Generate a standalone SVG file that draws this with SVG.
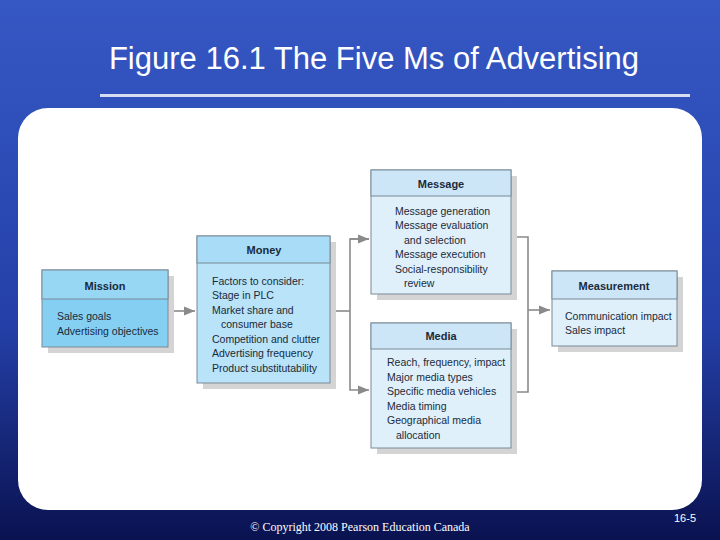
<svg xmlns="http://www.w3.org/2000/svg" width="720" height="540" viewBox="0 0 720 540">
<defs>
<linearGradient id="bg" x1="0" y1="0" x2="0" y2="1">
<stop offset="0" stop-color="#3658c4"/><stop offset="0.6" stop-color="#2440a8"/><stop offset="1" stop-color="#0a1250"/>
</linearGradient>
<marker id="ar" viewBox="0 0 10 10" refX="10" refY="5" markerWidth="7" markerHeight="7" orient="auto"><path d="M0,1 L10,5 L0,9 z" fill="#8a8a8a"/></marker>
</defs>
<style>
.sh{fill:#d4d4d4}
.bx{stroke:#7a8a96;stroke-width:1}
.dk{fill:#85cff2}.dkh{fill:#98d7f4}
.md{fill:#b9e3f8}.mdh{fill:#a9ddf7}
.lt{fill:#dff0fb}.lth{fill:#cce6f7}
.h{font-family:"Liberation Sans",Arial,sans-serif;font-weight:bold;font-size:11px;fill:#1a2a3a;text-anchor:middle}
.t{font-family:"Liberation Sans",Arial,sans-serif;font-size:10.5px;fill:#1a2a3a}
.c{stroke:#8a8a8a;stroke-width:1.6;fill:none}
</style>
<rect width="720" height="540" fill="url(#bg)"/>
<text x="374" y="69" font-family="Liberation Sans,Arial,sans-serif" font-size="31" fill="#fff" text-anchor="middle">Figure 16.1 The Five Ms of Advertising</text>
<rect x="100" y="94" width="590" height="3" fill="#d8dcf0"/>
<rect x="18" y="108" width="684" height="402" rx="30" fill="#fff"/>
<g id="connectors">
<line class="c" x1="168" y1="311" x2="195" y2="311" marker-end="url(#ar)"/>
<polyline class="c" points="330,311 350,311"/>
<polyline class="c" points="369,239 350,239 350,390 369,390" marker-end="url(#ar)"/>
<line class="c" x1="350" y1="239" x2="369" y2="239" marker-end="url(#ar)"/>
<polyline class="c" points="511,237 528,237 528,392 511,392"/>
<line class="c" x1="528" y1="310" x2="550" y2="310" marker-end="url(#ar)"/>
</g>
<g id="mission">
<rect class="sh" x="48" y="276" width="126" height="77"/>
<rect class="bx dk" x="42" y="270" width="126" height="77"/>
<rect class="bx dkh" x="42" y="270" width="126" height="29"/>
<text class="h" x="105" y="290">Mission</text>
<text class="t" x="57" y="320">Sales goals</text>
<text class="t" x="57" y="335">Advertising objectives</text>
</g>
<g id="money">
<rect class="sh" x="203" y="242" width="133" height="147"/>
<rect class="bx md" x="197" y="236" width="133" height="147"/>
<rect class="bx mdh" x="197" y="236" width="133" height="27"/>
<text class="h" x="264" y="254">Money</text>
<text class="t" x="212" y="285">Factors to consider:</text>
<text class="t" x="212" y="299">Stage in PLC</text>
<text class="t" x="212" y="314">Market share and</text>
<text class="t" x="221" y="328">consumer base</text>
<text class="t" x="212" y="343">Competition and clutter</text>
<text class="t" x="212" y="357">Advertising frequency</text>
<text class="t" x="212" y="372">Product substitutability</text>
</g>
<g id="message">
<rect class="sh" x="377" y="176" width="140" height="124"/>
<rect class="bx lt" x="371" y="170" width="140" height="124"/>
<rect class="bx lth" x="371" y="170" width="140" height="26"/>
<text class="h" x="441" y="188">Message</text>
<text class="t" x="395" y="215">Message generation</text>
<text class="t" x="395" y="229">Message evaluation</text>
<text class="t" x="404" y="244">and selection</text>
<text class="t" x="395" y="258">Message execution</text>
<text class="t" x="395" y="273">Social-responsibility</text>
<text class="t" x="404" y="287">review</text>
</g>
<g id="media">
<rect class="sh" x="377" y="329" width="140" height="125"/>
<rect class="bx lt" x="371" y="323" width="140" height="125"/>
<rect class="bx lth" x="371" y="323" width="140" height="26"/>
<text class="h" x="441" y="340">Media</text>
<text class="t" x="387" y="366">Reach, frequency, impact</text>
<text class="t" x="387" y="381">Major media types</text>
<text class="t" x="387" y="395">Specific media vehicles</text>
<text class="t" x="387" y="410">Media timing</text>
<text class="t" x="387" y="424">Geographical media</text>
<text class="t" x="396" y="439">allocation</text>
</g>
<g id="measurement">
<rect class="sh" x="558" y="277" width="125" height="75"/>
<rect class="bx lt" x="552" y="271" width="125" height="75"/>
<rect class="bx lth" x="552" y="271" width="125" height="28"/>
<text class="h" x="614" y="290">Measurement</text>
<text class="t" x="565" y="320">Communication impact</text>
<text class="t" x="565" y="334">Sales impact</text>
</g>
<text x="360" y="531" font-family="Liberation Serif,Times New Roman,serif" font-size="12" fill="#fff" text-anchor="middle">© Copyright 2008 Pearson Education Canada</text>
<text x="685" y="522" font-family="Liberation Sans,Arial,sans-serif" font-size="11" fill="#fff" text-anchor="middle">16-5</text>
</svg>
